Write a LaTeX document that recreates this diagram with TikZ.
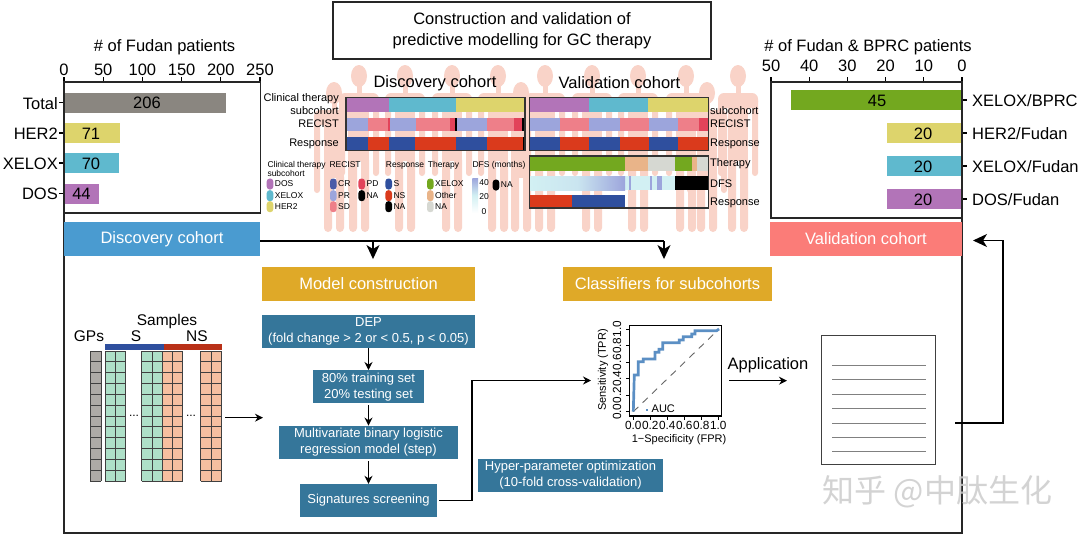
\documentclass[tikz,border=0pt]{standalone}
\usepackage{fontspec}
\setmainfont{Liberation Sans}
\newfontfamily\cjkfont{Noto Sans CJK SC}
\usetikzlibrary{arrows.meta}
\definecolor{cGray}{HTML}{8A8680}
\definecolor{cDos}{HTML}{B274B8}
\definecolor{cXel}{HTML}{5FB9CE}
\definecolor{cHer}{HTML}{DDD46C}
\definecolor{cGreen}{HTML}{73A81F}
\definecolor{cBlue}{HTML}{4A9BD0}
\definecolor{cCoral}{HTML}{FB7C78}
\definecolor{cGold}{HTML}{DFA928}
\definecolor{cTeal}{HTML}{35769A}
\definecolor{cCR}{HTML}{4A5BA8}
\definecolor{cPR}{HTML}{9CA5DC}
\definecolor{cSD}{HTML}{EE7F89}
\definecolor{cPD}{HTML}{E2435A}
\definecolor{cS}{HTML}{2F4F9E}
\definecolor{cNS}{HTML}{DA3A1C}
\definecolor{cOther}{HTML}{E9B489}
\definecolor{cNA}{HTML}{D6D8D2}
\definecolor{cIce}{HTML}{D2F0F3}
\definecolor{cMint}{HTML}{AEE0C8}
\definecolor{cPeach}{HTML}{F5BFA0}
\definecolor{cWm}{HTML}{F9D3C8}
\definecolor{cRoc}{HTML}{5B8FC4}
\newcommand{\fsz}[2]{\fontsize{#1}{#2}\selectfont}
\tikzset{
  txt/.style={inner sep=0pt,font=\fsz{16.5}{19}},
  small/.style={inner sep=0pt,font=\fsz{11}{12}},
  tiny/.style={inner sep=0pt,font=\fsz{8.5}{9}},
  cohort/.style={inner sep=0pt,text=white,font=\fsz{16.5}{19},minimum height=33.5pt},
  stepbox/.style={fill=cTeal,inner sep=0pt,text=white,align=center,font=\fsz{13}{16},minimum height=33pt},
  flow/.style={line width=1.3pt,->},
  bigflow/.style={line width=1.3pt,-{Stealth[length=14pt,width=13pt,inset=4pt]}},
  frame/.style={line width=1.3pt,draw=black!85},
  hmframe/.style={line width=1.1pt,draw=black!80},
}
\begin{document}
\begin{tikzpicture}[x=1pt,y=-1pt,>={Stealth[length=8pt,width=8pt]}]
\path[use as bounding box,fill=white] (0,0) rectangle (1080,536);
% pale figures behind the heat maps
\foreach \px/\py in {334/93,359/76,405/76,452/76,498/76,521/93,545/76,592/76,638/76,686/76,707/93,738/76}{
  \begin{scope}[shift={(\px,\py)},cWm]
    \fill (0,0) ellipse (8 and 11);
    \fill (-2.5,8) rectangle (2.5,20);
    \fill[rounded corners=6pt] (-20,17) rectangle (20,32);
    \fill[rounded corners=3pt] (-20,22) rectangle (-14,100);
    \fill[rounded corners=3pt] (14,22) rectangle (20,100);
    \fill (-10,22) rectangle (10,85);
    \fill[rounded corners=4pt] (-10,80) rectangle (-2,156-\py+76);
    \fill[rounded corners=4pt] (2,80) rectangle (10,156-\py+76);
  \end{scope}
}
% title
\node[draw,frame,minimum width=378pt,minimum height=57pt,align=center,font=\fsz{16.5}{20.5}] (title) at (522,30.5) {Construction and validation of\\predictive modelling for GC therapy};

% left bars
\node[txt] (ltitle) at (164.5,47.5) {\# of Fudan patients};
\foreach \v in {0,50,...,250}{
  \draw[line width=1.1pt] ({64+\v*0.784},77) -- ({64+\v*0.784},82);
  \node[txt] (lt\v) at ({64+\v*0.784},70) {\v};
}
\foreach \ya/\xb/\c/\lab/\num/\nx in {92.7/226/cGray/Total/206/147,123/120/cHer/HER2/71/91,153/119/cXel/XELOX/70/91,183.5/99/cDos/DOS/44/81.5}{
  \fill[\c] (64,\ya) rectangle (\xb,\ya+20);
  \node[txt] (lb\num) at (\nx,\ya+10.5) {\num};
  \node[txt,anchor=east] (ln\num) at (58,\ya+10.5) {\lab};
  \draw[line width=1.1pt] (59,\ya+10) -- (64,\ya+10);
}
\draw[frame] (64,82) rectangle (260.5,213);

% right bars
\node[txt] (rtitle) at (868,47) {\# of Fudan \& BPRC patients};
\foreach \v in {0,10,...,50}{
  \draw[line width=1.1pt] ({962-\v*3.82},77) -- ({962-\v*3.82},82);
  \node[txt] (rt\v) at ({962-\v*3.82},65.5) {\v};
}
\foreach \ya/\xa/\c/\lab/\num/\nx/\i in {90/791/cGreen/XELOX\slash BPRC/45/877/1,123/886.5/cHer/HER2\slash Fudan/20/923/2,156/887/cXel/XELOX\slash Fudan/20/923/3,189/886.5/cDos/DOS\slash Fudan/20/923/4}{
  \fill[\c] (\xa,\ya) rectangle (962,\ya+20);
  \node[txt] (rb\i) at (\nx,\ya+11) {\num};
  \node[txt,anchor=west] (rn\i) at (972,\ya+10.5) {\lab};
  \draw[line width=1.1pt] (962,\ya+10) -- (967,\ya+10);
}
\draw[frame] (771,82) rectangle (962,218);

% main frame
\draw[frame] (64,213) |- (962,533) -- (962,218);
\node[cohort,fill=cBlue,minimum width=196pt] (disc) at (162,239) {Discovery cohort\hspace{6pt}};
\node[cohort,fill=cCoral,minimum width=192pt] (valid) at (866,239) {Validation cohort\hspace{6pt}};
\node[cohort,fill=cGold,minimum width=213pt] (model) at (368.5,284) {Model construction\hspace{10pt}};
\node[cohort,fill=cGold,minimum width=209pt] (classif) at (667.5,284) {Classifiers for subcohorts\hspace{11pt}};

% cohort titles and heat maps
\node[inner sep=0pt,font=\fsz{16.5}{19}] (dcoh) at (435,83) {Discovery cohort};
\node[inner sep=0pt,font=\fsz{16.5}{19}] (vcoh) at (619.5,83) {Validation cohort};
\foreach \xa/\xb/\c in {346/389/cDos,389/456/cXel,456/525/cHer,530/589/cDos,589/648/cXel,648/708/cHer}
  \fill[\c] (\xa,98) rectangle (\xb,112);
\foreach \xa/\xb/\c in {346/368/cPR,368/388/cSD,388/389.5/cPD,389.5/416/cPR,416/450/cSD,450/455/cPD,455/456.5/black,456.5/487/cPR,487/514/cSD,514/522/cPD,522/525/black,530/560/cPR,560/589/cSD,589/620/cPR,620/649/cSD,649/678/cPR,678/699/cSD,699/708/cPD}
  \fill[\c] (\xa,117.7) rectangle (\xb,131);
\foreach \xa/\xb/\c in {346/368/cS,368/389/cNS,389/415/cS,415/456/cNS,456/487/cS,487/523/cNS,523/525/black,530/560/cS,560/589/cNS,589/620/cS,620/649/cNS,649/678/cS,678/708/cNS}
  \fill[\c] (\xa,136.7) rectangle (\xb,150);
\foreach \xa/\xb/\c in {530/625/cGreen,625/648/cOther,648/675/cNA,675/692/cGreen,692/697/cOther,697/708/cNA}
  \fill[\c] (\xa,156.7) rectangle (\xb,170.5);
\fill[cIce] (625,176) rectangle (675.3,190);
\shade[left color=cIce,right color=cPR,middle color=cIce!85!cPR] (530,176) rectangle (625,190);
\foreach \xa/\xb in {629/631,650/651.5,656.5/662}
  \fill[cPR] (\xa,176) rectangle (\xb,190);
\fill[black] (675.3,176) rectangle (708,190);
\fill[cNS] (530,195) rectangle (572,207.5);
\fill[cS] (572,195) rectangle (625,207.5);
\draw[hmframe] (346,97.5) rectangle (525,150.5);
\draw[hmframe] (529.5,97.5) rectangle (708.5,150.5);
\draw[hmframe] (529.5,156) rectangle (708.5,208);

\node[small,anchor=east] (hl1) at (339,99) {Clinical therapy};
\node[small,anchor=east] (hl2) at (339,111) {subcohort};
\node[small,anchor=east] (hl3) at (339,124) {RECIST};
\node[small,anchor=east] (hl4) at (339,144) {Response};
\foreach \yy/\t [count=\i] in {110.7/subcohort,124/RECIST,144/Response,163.7/Therapy,184/DFS,203/Response}
  \node[small,anchor=west] (hr\i) at (710,\yy) {\t};

% legend
\node[tiny,anchor=west] (lg1) at (267.3,165) {Clinical therapy};
\node[tiny,anchor=west] (lg2) at (267.3,173) {subcohort};
\node[tiny,anchor=west] (lg3) at (329.3,165) {RECIST};
\node[tiny,anchor=west] (lg4) at (385.7,165) {Response};
\node[tiny,anchor=west] (lg5) at (427.7,165) {Therapy};
\node[tiny,anchor=west] (lg6) at (472.3,165) {DFS (months)};
\foreach \sx/\sy/\c/\t [count=\i] in {270/184/cDos/DOS,270/195.7/cXel/XELOX,270/206.7/cHer/HER2,333.3/184/cCR/CR,333.3/195.7/cPR/PR,333.3/206.7/cSD/SD,361.7/184/cPD/PD,361.7/195.7/black/NA,388.7/184/cS/S,388.7/195.7/cNS/NS,388.7/206.7/black/NA,430.3/184/cGreen/XELOX,430.3/195.7/cOther/Other,430.3/206.7/cNA/NA,496/185/black/NA}{
  \fill[\c,rounded corners=3pt] (\sx-3.3,\sy-5.5) rectangle (\sx+3.3,\sy+5.5);
  \node[tiny,anchor=west] (sw\i) at (\sx+4.7,\sy) {\t};
}
\shade[top color=cPR,bottom color=white,middle color=cIce] (472.3,178) rectangle (478,213);
\node[tiny] (d40) at (484,182.7) {40};
\node[tiny] (d20) at (484,196.7) {20};
\node[tiny] (d0) at (484,211.7) {0};

% sample matrix
\node[inner sep=0pt,font=\fsz{15.5}{18}] (samples) at (167,321) {Samples};
\node[inner sep=0pt,font=\fsz{15.5}{18}] (gps) at (89,336) {GPs};
\node[inner sep=0pt,font=\fsz{15.5}{18}] (sgroup) at (136,336) {S};
\node[inner sep=0pt,font=\fsz{15.5}{18}] (nsgroup) at (197,336) {NS};
\fill[cS] (105,343.5) rectangle (163.5,349.5);
\fill[cNS!85!black] (163.5,343.5) rectangle (222,349.5);
\foreach \xa/\xb/\n/\c in {90.3/101.3/1/cGray!70,105/125.7/2/cMint,141.7/162.3/2/cMint,162.3/182.7/2/cPeach,200.7/221.7/2/cPeach}{
  \fill[\c] (\xa,351) rectangle (\xb,481);
  \foreach \r in {0,...,12}
    \draw[black!75,line width=0.9pt] (\xa,{351+\r*130/12}) -- (\xb,{351+\r*130/12});
  \draw[black!75,line width=0.9pt] (\xa,351) -- (\xa,481) (\xb,351) -- (\xb,481);
  \ifnum\n=2 \draw[black!75,line width=0.9pt] ({(\xa+\xb)/2},351) -- ({(\xa+\xb)/2},481); \fi
}
\node[inner sep=0pt,font=\fsz{12}{14}] (dots1) at (134,416) {...};
\node[inner sep=0pt,font=\fsz{12}{14}] (dots2) at (191,416) {...};
\coordinate (matout) at (225,417.7);

% model steps
\node[stepbox,minimum width=213pt] (dep) at (368.5,331.5) {DEP\\(fold change > 2 or < 0.5, p < 0.05)};
\node[stepbox,minimum width=111pt] (split) at (368.5,386.7) {80\% training set\\20\% testing set};
\node[stepbox,minimum width=179pt] (logit) at (368.5,442.3) {Multivariate binary logistic\\regression model (step)};
\node[stepbox,minimum width=137pt] (sign) at (368.5,500.5) {Signatures screening};
\node[stepbox,minimum width=185pt] (hyper) at (570.5,475) {Hyper-parameter optimization\\(10-fold cross-validation)};
\draw[flow] (matout) -- (263,417.7);
\draw[flow] (dep) -- (split);
\draw[flow,shorten <=2pt] (split) -- (logit);
\draw[flow,shorten <=2pt] (logit) -- (sign);
\coordinate (rocin) at (591,380.5);
\draw[flow,shorten <=2pt] (sign.east) -- (472,500.5) |- (rocin);

% ROC plot
\draw[line width=1.1pt] (629.3,325.7) rectangle (721.7,416);
\foreach \v [count=\i from 0] in {0.0,0.2,0.4,0.6,0.8,1.0}{
  \draw[line width=0.9pt] ({633.3+\i*17},416) -- ({633.3+\i*17},419.5);
  \draw[line width=0.9pt] (629.3,{411.7-\i*16.5}) -- (625.8,{411.7-\i*16.5});
  \node[inner sep=0pt,font=\fsz{11.8}{13}] (rx\i) at ({633.3+\i*17},425.5) {\v};
  \node[inner sep=0pt,font=\fsz{11.8}{13},rotate=90] (ry\i) at (617,{411.7-\i*16.5}) {\v};
}
\node[small,rotate=90] (rocy) at (603,370) {Sensitivity (TPR)};
\node[small] (rocx) at (679,439.5) {1−Specificity (FPR)};
\draw[black!60,line width=0.9pt,dash pattern=on 7pt off 6pt] (633.3,411.7) -- (719,329);
\draw[cRoc,line width=2.7pt] (633.3,411.7) -- (634.3,375) -- (638.3,375) -- (638.3,361.7) -- (643.3,361.7) -- (643.3,359) -- (655,359) -- (655,352.3) -- (659,352.3) -- (659,349.3) -- (662.7,349.3) -- (662.7,342.7) -- (679.3,342.7) -- (679.3,340) -- (683.3,340) -- (683.3,336.7) -- (691.7,336.7) -- (691.7,334) -- (695,334) -- (695,330.7) -- (716.7,330.7) -- (719,329);
\fill[cRoc] (645.5,408.5) rectangle (648,411);
\node[small,anchor=west] (auc) at (651.5,409) {AUC};

% application and report
\node[txt] (appl) at (768,365) {Application};
\coordinate (applin) at (729,380.7);
\node[draw=black!75,line width=0.9pt,minimum width=114.4pt,minimum height=129.7pt,inner sep=0pt] (report) at (878.5,399.8) {};
\draw[flow] (applin) -- (787,380.7);
\foreach \yy in {365,379.3,394,408.5,423,437.3,451.7}
  \draw[black!50,line width=0.9pt] (832,\yy) -- (925.5,\yy);

% cohort arrows
\coordinate (discout) at (260,241);
\coordinate (brA) at (373,241);
\coordinate (brB) at (664,241);
\draw[line width=1.3pt] (discout) -- (brB);
\draw[bigflow,shorten >=8pt] (brA) -- (brA |- model.north);
\draw[bigflow,shorten >=8pt] (brB) -- (brB |- classif.north);
\coordinate (repout) at (955,423);
\coordinate (backin) at (973,240.5);
\draw[bigflow] (repout) -- (1003,423) |- (backin);

\node[inner sep=0pt,text=black!20,opacity=0.85,font=\cjkfont\fsz{32}{34}] (wmark) at (937.5,491.5) {知乎 @中肽生化};
\end{tikzpicture}
\end{document}
